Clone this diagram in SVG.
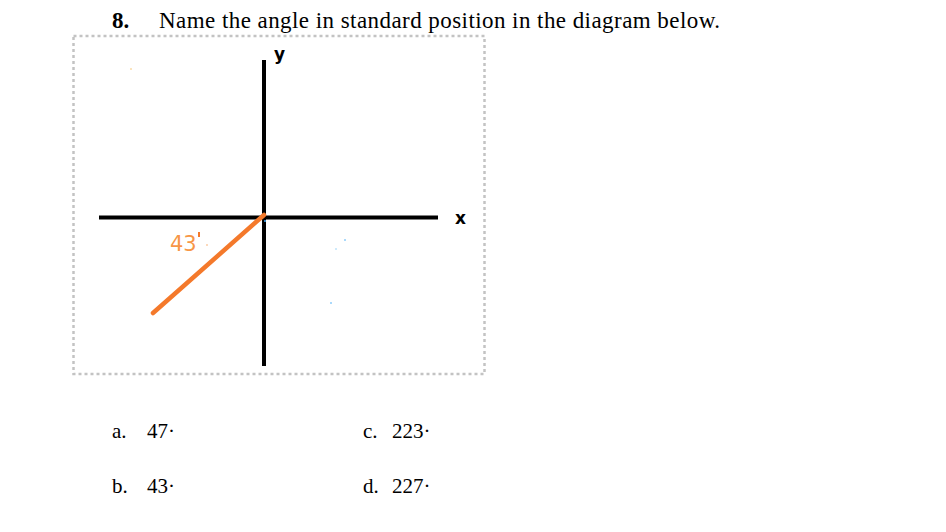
<svg xmlns="http://www.w3.org/2000/svg" width="946" height="532" viewBox="0 0 946 532">
<style>
.serif{font-family:"Liberation Serif","Times New Roman",serif;fill:#000}
.axis{stroke:#000;stroke-width:4;fill:none}
.lbl{font-family:"DejaVu Sans","Liberation Sans",sans-serif;font-weight:bold;font-size:17px;fill:#000}
</style>
<rect width="946" height="532" fill="#fff"/>
<g id="title">
<text class="serif" x="112" y="28" font-size="23" font-weight="bold">8.</text>
<text class="serif" x="159" y="28" font-size="23" textLength="561" lengthAdjust="spacing">Name the angle in standard position in the diagram below.</text>
</g>
<g id="frame">
<rect x="73.5" y="36" width="411" height="338" fill="none" stroke="#c3c3c3" stroke-width="2.5" stroke-dasharray="3 3"/>
</g>
<g id="connectors">
<line id="y-axis" class="axis" x1="264" y1="60" x2="264" y2="366"/>
<line id="x-axis" class="axis" x1="99" y1="217.5" x2="438" y2="217.5"/>
<line id="terminal-side" x1="153" y1="313" x2="264" y2="215" stroke="#f4792b" stroke-width="4.5" stroke-linecap="round"/>
</g>
<g id="labels">
<text class="lbl" x="274" y="60">y</text>
<text class="lbl" x="455" y="224">x</text>
<text x="170" y="251" font-family="DejaVu Sans,sans-serif" font-size="21" fill="#f79646">43</text>
<rect x="198" y="232" width="2" height="5" fill="#f4792b"/>
<circle cx="207" cy="245" r="0.7" fill="#f79646"/>
</g>
<g id="specks">
<circle cx="131" cy="69" r="0.8" fill="#f5c26b"/>
<circle cx="345" cy="240" r="0.8" fill="#3fa9f5"/>
<circle cx="336" cy="249" r="0.8" fill="#8fd0f5"/>
<circle cx="331" cy="303" r="0.8" fill="#3fa9f5"/>
<circle cx="265" cy="221" r="1" fill="#3fa9f5"/>
</g>
<g id="options" font-size="21">
<text class="serif" x="112" y="438">a.</text>
<text class="serif" x="147" y="438">47·</text>
<text class="serif" x="112" y="493">b.</text>
<text class="serif" x="147" y="493">43·</text>
<text class="serif" x="363" y="438">c.</text>
<text class="serif" x="392" y="438">223·</text>
<text class="serif" x="363" y="493">d.</text>
<text class="serif" x="392" y="493">227·</text>
</g>
</svg>
